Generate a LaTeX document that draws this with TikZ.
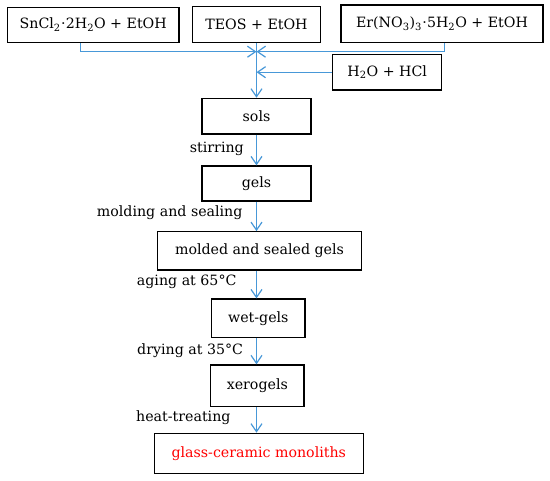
\documentclass[tikz,border=0pt]{standalone}
\usepackage{fontspec}
\setmainfont{DejaVu Serif}
\usetikzlibrary{arrows.meta}
\definecolor{flowblue}{RGB}{72,152,216}
\newcommand{\mysub}[1]{\textsubscript{#1}}
\newcommand{\mydot}{\kern0.3pt·\kern0.3pt}
\begin{document}
\begin{tikzpicture}[x=1pt,y=-1pt,
  txt/.style={font=\fontsize{14.2}{17}\selectfont},
  box/.style={txt, draw=black, line width=1.2pt, fill=white, inner sep=0pt, text=black},
  lab/.style={txt, anchor=east, inner sep=0pt},
  flow/.style={draw=flowblue, line width=1.2pt, -{Straight Barb[length=8pt,width=11pt,line width=1.2pt]}}]
\useasboundingbox[fill=white] (0,0) rectangle (550,481);
% top inputs
\node[box, minimum width=171.7pt, minimum height=35pt] (b1) at (93.2,24.8) {SnCl\mysub{2}\mydot 2H\mysub{2}O + EtOH};
\node[box, minimum width=128pt, minimum height=35.6pt] (b2) at (256.5,24.5) {TEOS + EtOH};
\node[box, minimum width=202pt, minimum height=37.3pt] (b3) at (442,23.7) {Er(NO\mysub{3})\mysub{3}\mydot 5H\mysub{2}O + EtOH};
\node[box, minimum width=109pt, minimum height=35.7pt] (h2o) at (387.2,72.2) {H\mysub{2}O + HCl};
% chain
\node[box, minimum width=109pt, minimum height=35.7pt] (sols) at (256.5,116.2) {sols};
\node[box, minimum width=109pt, minimum height=35pt] (gels) at (256.5,183.5) {gels};
\node[box, minimum width=204.4pt, minimum height=38.3pt] (molded) at (259.5,250.9) {molded and sealed gels};
\node[box, minimum width=93.3pt, minimum height=38.3pt] (wet) at (258.3,318.2) {wet-gels};
\node[box, minimum width=93.3pt, minimum height=41.7pt] (xero) at (257.3,385.8) {xerogels};
\node[box, minimum width=209pt, minimum height=40pt, text=red] (glass) at (258.8,453.3) {glass-ceramic monoliths};
% labels
\node[lab] (l1) at (244,149) {stirring};
\node[lab] (l2) at (242.7,212.7) {molding and sealing};
\node[lab] (l3) at (236.7,281.7) {aging at 65°C};
\node[lab] (l4) at (243.3,351) {drying at 35°C};
\node[lab] (l5) at (230.7,417.7) {heat-treating};
% connectors
\coordinate (j) at (256.5,51.7);
\draw[flow] ([xshift=-13pt]b1.south) |- (j);
\draw[flow] ([xshift=2.3pt]b3.south) |- (j);
\draw[flow] (b2.south) -- (sols.north);
\draw[flow] (h2o.west) -- (h2o.west -| j);
\draw[flow] (sols.south) -- (gels.north);
\draw[flow] (gels.south) -- (gels.south |- molded.north);
\draw[flow] (molded.south -| gels.south) -- (wet.north -| gels.south);
\draw[flow] (wet.south -| gels.south) -- (xero.north -| gels.south);
\draw[flow] (xero.south -| gels.south) -- (glass.north -| gels.south);
\end{tikzpicture}
\end{document}
